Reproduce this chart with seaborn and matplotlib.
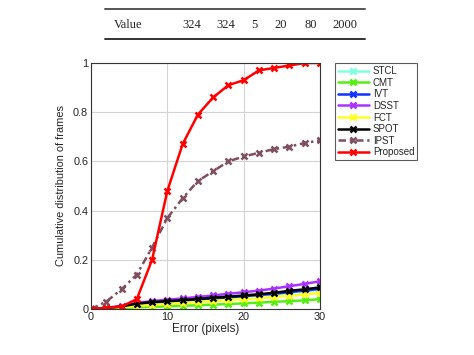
import matplotlib
matplotlib.use("Agg")
import matplotlib.pyplot as plt
import seaborn as sns
import numpy as np
import pandas as pd

# ---- data ----
errors = [0, 2, 4, 6, 8, 10, 12, 14, 16, 18, 20, 22, 24, 26, 28, 30]
stcl = [0, 0.004, 0.009, 0.019, 0.025, 0.029, 0.033, 0.037, 0.042, 0.046, 0.050, 0.055, 0.060, 0.066, 0.072, 0.079]
cmt = [0, 0.002, 0.004, 0.007, 0.009, 0.011, 0.013, 0.015, 0.018, 0.020, 0.023, 0.026, 0.029, 0.032, 0.035, 0.040]
ivt = [0, 0.004, 0.010, 0.020, 0.026, 0.030, 0.034, 0.039, 0.043, 0.047, 0.052, 0.057, 0.062, 0.069, 0.075, 0.082]
dsst = [0, 0.005, 0.012, 0.025, 0.032, 0.038, 0.043, 0.049, 0.055, 0.062, 0.068, 0.075, 0.083, 0.093, 0.102, 0.113]
fct = [0, 0.003, 0.007, 0.012, 0.016, 0.020, 0.024, 0.028, 0.032, 0.036, 0.040, 0.044, 0.049, 0.054, 0.059, 0.066]
spot = [0, 0.004, 0.010, 0.022, 0.028, 0.032, 0.036, 0.041, 0.046, 0.050, 0.055, 0.060, 0.066, 0.074, 0.080, 0.088]
ipst = [0, 0.03, 0.08, 0.14, 0.25, 0.37, 0.45, 0.52, 0.56, 0.60, 0.62, 0.635, 0.65, 0.66, 0.675, 0.685]
proposed = [0, 0.005, 0.01, 0.04, 0.20, 0.48, 0.67, 0.79, 0.86, 0.91, 0.93, 0.97, 0.98, 0.99, 1.0, 1.0]

methods = ["STCL", "CMT", "IVT", "DSST", "FCT", "SPOT", "IPST", "Proposed"]
series = [stcl, cmt, ivt, dsst, fct, spot, ipst, proposed]
colors = ["#80ffe0", "#55ee11", "#1030ff", "#aa33ff", "#ffff22", "#000000", "#7f4f5f", "#ff0000"]

table_label = "Value"
table_values = ["324", "324", "5", "20", "80", "2000"]

# ---- figure ----
sns.set_style("white")
plt.rcParams["font.family"] = ["Liberation Sans", "DejaVu Sans"]

fig = plt.figure(figsize=(4.74, 3.55), dpi=100)
ax = fig.add_axes([91 / 474, 1 - 309 / 355, (320 - 91) / 474, (309 - 63) / 355])

df = pd.DataFrame({
    "Error": np.tile(errors, len(methods)),
    "value": np.concatenate(series),
    "Method": np.repeat(methods, len(errors)),
})

for name, col in zip(methods, colors):
    sub = df[df["Method"] == name]
    ls = (0, (3, 1.5, 1, 1.5)) if name == "IPST" else "-"
    sns.lineplot(data=sub, x="Error", y="value", ax=ax, color=col, lw=1.8,
                 linestyle=ls, marker="x", markersize=4.5, mew=1.8,
                 markeredgecolor=col, label=name, legend=False)

ax.set_xlim(0, 30)
ax.set_ylim(0, 1)
ax.set_xticks([0, 10, 20, 30])
ax.set_yticks([0, 0.2, 0.4, 0.6, 0.8, 1])
ax.set_yticklabels(["0", "0.2", "0.4", "0.6", "0.8", "1"])
ax.grid(True, color="#d4d4d4", lw=0.8)
ax.tick_params(direction="in", length=3, labelsize=7.8, colors="#222222", pad=2)
for s in ax.spines.values():
    s.set_color("#333333")
    s.set_linewidth(0.8)
ax.set_xlabel("Error (pixels)", fontsize=8.5, labelpad=1)
ax.set_ylabel("Cumulative distribution of frames", fontsize=7.9, labelpad=5)

leg = ax.legend(loc="upper left", bbox_to_anchor=(335 / 474, 1 - 63 / 355),
                bbox_transform=fig.transFigure, fontsize=7, frameon=True,
                fancybox=False, edgecolor="#333333", handlelength=3.2,
                handletextpad=0.4, labelspacing=0.17, borderpad=0.3,
                borderaxespad=0)
leg.get_frame().set_linewidth(0.8)

# ---- table fragment at top ----
x0, x1 = 105 / 474, 365 / 474
fig.add_artist(plt.Line2D([x0, x1], [1 - 9 / 355, 1 - 9 / 355], color="#555555", lw=1.4))
fig.add_artist(plt.Line2D([x0, x1], [1 - 39 / 355, 1 - 39 / 355], color="#333333", lw=1.4))
tfont = dict(family=["Liberation Serif", "DejaVu Serif"], fontsize=9, color="#222222", va="center")
fig.text(114 / 474, 1 - 25 / 355, table_label, ha="left", **tfont)
for v, xc in zip(table_values, [192, 226, 254, 281, 311, 345]):
    fig.text(xc / 474, 1 - 25 / 355, v, ha="center", **tfont)

fig.savefig("out.png", dpi=100)
